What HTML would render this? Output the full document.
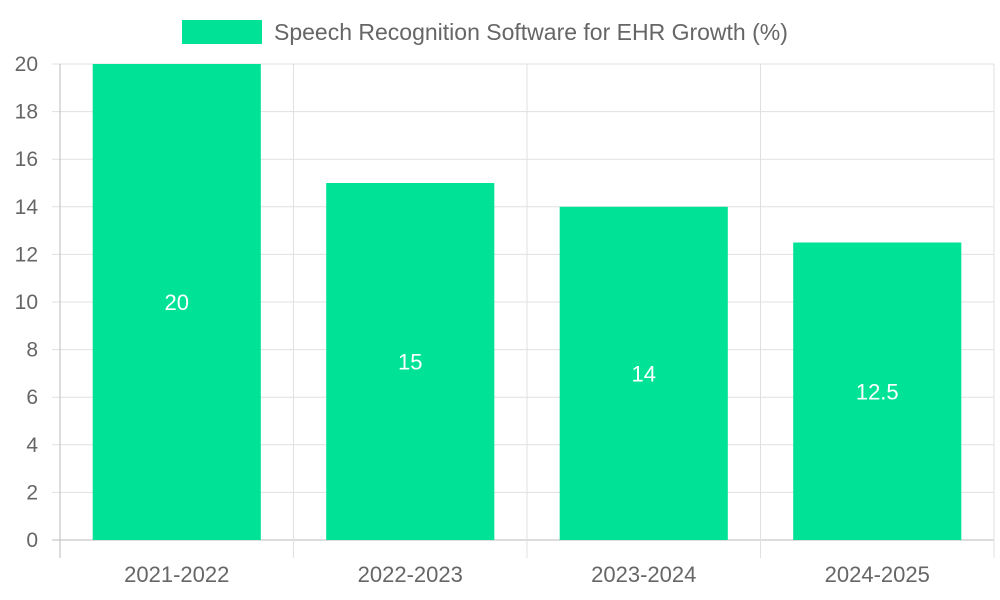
<!DOCTYPE html>
<html><head><meta charset="utf-8"><style>
body{margin:0;background:#fff;}
svg{display:block;font-family:"Liberation Sans",sans-serif;}
</style></head><body>
<svg id="chart" width="1000" height="600">
<rect x="182" y="20" width="80" height="24" fill="#00e396"/>
<text x="274" y="40" font-size="23" fill="#666">Speech Recognition Software for EHR Growth (%)</text>
<g id="grid"></g><g id="bars"></g><g id="labels"></g>
</svg>
<script>
const categories=["2021-2022","2022-2023","2023-2024","2024-2025"];
const values=[20,15,14,12.5];
const yTicks=[0,2,4,6,8,10,12,14,16,18,20];
const L=60,R=994,T=64,B=540,yMax=20;
const ns="http://www.w3.org/2000/svg";
const y=v=>B-(v/yMax)*(B-T);
const bw=(R-L)/categories.length;
const x=i=>L+i*bw;
function mk(tag,attrs,parent,text){const e=document.createElementNS(ns,tag);for(const k in attrs)e.setAttribute(k,attrs[k]);if(text!==undefined)e.textContent=text;parent.appendChild(e);return e;}
const g=document.getElementById('grid'),gb=document.getElementById('bars'),gl=document.getElementById('labels');
yTicks.forEach(t=>{
 const ln=mk('line',{x1:L-8,x2:R,y1:y(t),y2:y(t),stroke:t===0?'#bbb':'#e0e0e0','stroke-width':1},g);
 
 
 const tx=mk('text',{x:38,y:y(t)+7,'text-anchor':'end','font-size':21,fill:'#666'},g,String(t));
 
 
});
for(let i=0;i<=categories.length;i++){
 const ln=mk('line',{x1:x(i),x2:x(i),y1:T,y2:B+18,stroke:i===0?'#bbb':'#e0e0e0','stroke-width':1},g);
 
 
}
categories.forEach((c,i)=>{
 const w=bw*0.72,bx=x(i)+(bw-w)/2;
 const r=mk('rect',{x:bx,y:y(values[i]),width:w,height:B-y(values[i]),fill:'#00e396'},gb);
 
 
 const v=mk('text',{x:x(i)+bw/2,y:(y(values[i])+B)/2+8,'text-anchor':'middle','font-size':22,fill:'#fff'},gl,String(values[i]));
 
 
 const xl=mk('text',{x:x(i)+bw/2,y:582,'text-anchor':'middle','font-size':22,fill:'#666'},gl,c);
 
 
});
</script>
</body></html>
